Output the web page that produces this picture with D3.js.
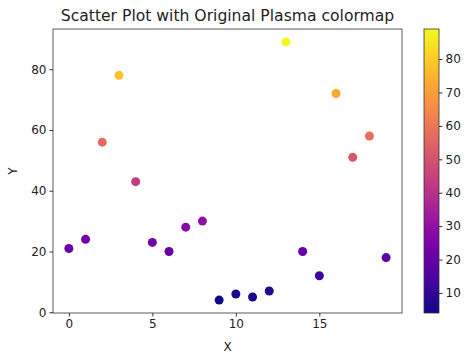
<!DOCTYPE html>
<html><head><meta charset="utf-8">
<script src="https://cdn.jsdelivr.net/npm/d3@7"></script>
<style>body{margin:0;background:#fff}text{font-family:"DejaVu Sans",sans-serif;fill:#222}</style>
</head><body><svg id="c" width="474" height="362"></svg>
<script>
const xValues = [0,1,2,3,4,5,6,7,8,9,10,11,12,13,14,15,16,17,18,19];
const yValues = [21,24,56,78,43,23,20,28,30,4,6,5,7,89,20,12,72,51,58,18];
const xTicks = [0,5,10,15];
const yTicks = [0,20,40,60,80];
const cTicks = [10,20,30,40,50,60,70,80];

const svg = d3.select("#c");
const L=53, R=402, T=29, B=313;
const x = d3.scaleLinear().domain([-0.95,19.95]).range([L,R]);
const y = d3.scaleLinear().domain([-0.25,93.25]).range([B,T]);
const cmin=d3.min(yValues), cmax=d3.max(yValues);
const col = d3.scaleSequential(d3.interpolatePlasma).domain([cmin,cmax]);

svg.append("text").attr("x",(L+R)/2).attr("y",21).attr("text-anchor","middle").style("font-size","15.6px").text("Scatter Plot with Original Plasma colormap");

const gx = svg.append("g").attr("transform",`translate(0,${B})`).call(d3.axisBottom(x).tickValues(xTicks).tickSize(3.5).tickPadding(3));
const gy = svg.append("g").attr("transform",`translate(${L},0)`).call(d3.axisLeft(y).tickValues(yTicks).tickSize(3.5).tickPadding(3));
[gx,gy].forEach(g=>{g.select(".domain").remove();g.selectAll("text").style("font-size","12px").attr("fill","#222");g.selectAll("line").attr("stroke","#333");});

svg.append("g").selectAll("circle").data(xValues).join("circle")
 .attr("cx",(d,i)=>x(d)).attr("cy",(d,i)=>y(yValues[i])).attr("r",4.5)
 .attr("fill",(d,i)=>col(yValues[i]));

svg.append("rect").attr("x",L).attr("y",T).attr("width",R-L).attr("height",B-T).attr("fill","none").attr("stroke","#333").attr("stroke-width",0.8);

svg.append("text").attr("x",(L+R)/2).attr("y",351).attr("text-anchor","middle").style("font-size","12px").text("X");
svg.append("text").attr("transform",`translate(17,${(T+B)/2}) rotate(-90)`).attr("text-anchor","middle").style("font-size","12px").text("Y");

// colorbar
const CL=424, CW=15;
const cy = d3.scaleLinear().domain([cmin,cmax]).range([B,T]);
const defs = svg.append("defs");
const grad = defs.append("linearGradient").attr("id","g").attr("x1",0).attr("y1",1).attr("x2",0).attr("y2",0);
d3.range(0,1.0001,0.05).forEach(t=>grad.append("stop").attr("offset",t).attr("stop-color",d3.interpolatePlasma(t)));
svg.append("rect").attr("x",CL).attr("y",T).attr("width",CW).attr("height",B-T).attr("fill","url(#g)").attr("stroke","#333").attr("stroke-width",0.8);
const gc = svg.append("g").attr("transform",`translate(${CL+CW},0)`).call(d3.axisRight(cy).tickValues(cTicks).tickSize(3.5).tickPadding(3));
gc.select(".domain").remove();gc.selectAll("text").style("font-size","12px").attr("fill","#222");gc.selectAll("line").attr("stroke","#333");
</script></body></html>
